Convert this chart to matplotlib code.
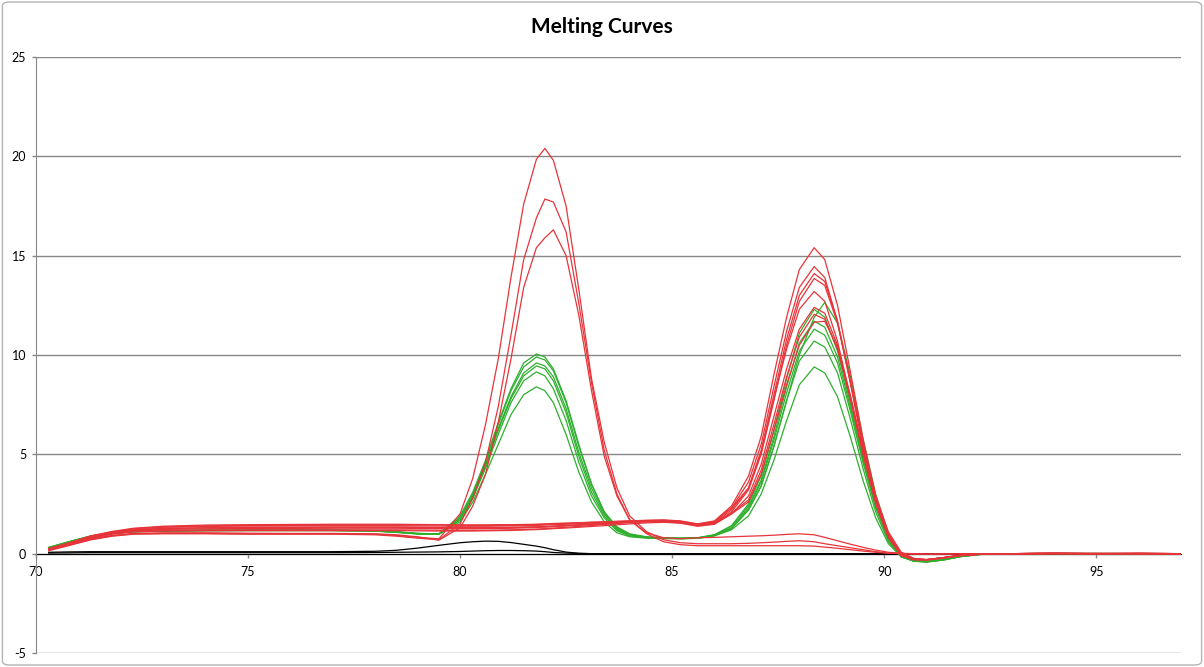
import matplotlib
matplotlib.use("Agg")
import matplotlib.pyplot as plt
from matplotlib.patches import FancyBboxPatch

# temperature grid (deg C) shared by all wells
temps = [70.3, 70.8, 71.3, 71.8, 72.3, 73, 74, 75, 76, 77,
         78, 78.5, 79, 79.5, 80, 80.3, 80.6, 80.9, 81.2, 81.5,
         81.8, 82.0, 82.2, 82.5, 82.8, 83.1, 83.4, 83.7, 84.0, 84.4,
         84.8, 85.2, 85.6, 86.0, 86.4, 86.8, 87.1, 87.4, 87.7, 88.0,
         88.35, 88.6, 88.9, 89.2, 89.5, 89.8, 90.1, 90.4, 90.7, 91.0,
         91.4, 91.8, 92.3, 93, 94, 95, 96, 97]

# red wells with the 82 C product
red_a1 = [0.18, 0.45, 0.72, 0.9, 1.0, 1.02, 1.02, 1.0, 1.0, 1.0,
          0.98, 0.92, 0.82, 0.75, 2.0, 3.8, 6.5, 9.8, 13.9, 17.6,
          19.85, 20.4, 19.8, 17.5, 13.3, 8.8, 5.6, 3.3, 1.9, 1.1,
          0.7, 0.55, 0.5, 0.5, 0.5, 0.52, 0.55, 0.58, 0.62, 0.65,
          0.6, 0.5, 0.4, 0.3, 0.2, 0.1, 0.03, 0.0, -0.02, -0.03,
          -0.02, 0.0, 0.0, 0.0, 0.01, 0.0, 0.01, 0.0]
red_a2 = [0.15, 0.42, 0.7, 0.88, 0.98, 1.0, 1.0, 0.98, 0.98, 0.98,
          0.95, 0.88, 0.78, 0.7, 1.5, 2.8, 4.6, 7.4, 11.0, 14.8,
          16.9, 17.85, 17.7, 16.2, 12.6, 8.6, 5.2, 3.0, 1.7, 1.0,
          0.6, 0.45, 0.4, 0.4, 0.4, 0.4, 0.4, 0.4, 0.4, 0.4,
          0.38, 0.33, 0.27, 0.2, 0.13, 0.07, 0.02, 0.0, -0.02, -0.03,
          -0.02, 0.0, 0.0, 0.0, 0.0, 0.01, 0.0, 0.0]
red_a3 = [0.2, 0.48, 0.75, 0.92, 1.02, 1.05, 1.05, 1.03, 1.02, 1.02,
          1.0, 0.95, 0.85, 0.68, 1.3, 2.4, 4.0, 6.6, 9.8, 13.4,
          15.4, 15.9, 16.3, 15.0, 12.0, 8.2, 4.9, 2.9, 1.7, 1.05,
          0.8, 0.75, 0.8, 0.82, 0.85, 0.88, 0.9, 0.93, 0.97, 1.0,
          0.95, 0.82, 0.65, 0.48, 0.32, 0.18, 0.07, 0.02, 0.0, -0.02,
          -0.01, 0.0, 0.0, 0.0, 0.01, 0.0, 0.0, 0.0]

# red wells with the 88 C product
red_b1 = [0.25, 0.55, 0.88, 1.1, 1.25, 1.35, 1.4, 1.42, 1.42, 1.45,
          1.45, 1.45, 1.45, 1.45, 1.42, 1.42, 1.42, 1.43, 1.43, 1.45,
          1.47, 1.48, 1.5, 1.52, 1.55, 1.58, 1.6, 1.63, 1.65, 1.68,
          1.7, 1.65, 1.5, 1.65, 2.4, 3.9, 5.9, 9.0, 11.9, 14.3,
          15.4, 14.8, 12.5, 9.2, 5.8, 2.9, 0.9, -0.1, -0.3, -0.3,
          -0.2, -0.1, -0.02, 0.0, 0.02, 0.0, 0.02, 0.0]
red_b2 = [0.22, 0.5, 0.82, 1.02, 1.15, 1.22, 1.25, 1.27, 1.27, 1.28,
          1.28, 1.28, 1.27, 1.26, 1.25, 1.25, 1.26, 1.27, 1.28, 1.3,
          1.32, 1.34, 1.37, 1.41, 1.45, 1.5, 1.54, 1.58, 1.62, 1.65,
          1.66, 1.6, 1.45, 1.6, 2.3, 3.6, 5.5, 8.4, 11.2, 13.4,
          14.45, 13.9, 11.7, 8.6, 5.4, 2.7, 0.85, -0.1, -0.3, -0.32,
          -0.22, -0.1, -0.02, 0.0, 0.01, 0.0, 0.02, 0.0]
red_b3 = [0.24, 0.52, 0.85, 1.05, 1.2, 1.28, 1.3, 1.32, 1.32, 1.33,
          1.33, 1.33, 1.32, 1.3, 1.28, 1.28, 1.28, 1.3, 1.3, 1.32,
          1.34, 1.35, 1.37, 1.4, 1.43, 1.46, 1.5, 1.54, 1.58, 1.62,
          1.64, 1.58, 1.42, 1.55, 2.2, 3.3, 5.2, 8.0, 10.8, 13.0,
          14.1, 13.7, 11.7, 8.7, 5.5, 2.8, 0.9, -0.05, -0.28, -0.3,
          -0.2, -0.08, -0.02, 0.0, 0.02, 0.01, 0.0, 0.0]
red_b4 = [0.2, 0.48, 0.8, 1.0, 1.12, 1.17, 1.19, 1.2, 1.2, 1.2,
          1.2, 1.2, 1.19, 1.18, 1.17, 1.17, 1.18, 1.19, 1.2, 1.22,
          1.24, 1.26, 1.29, 1.33, 1.37, 1.42, 1.47, 1.52, 1.56, 1.6,
          1.62, 1.56, 1.4, 1.5, 2.1, 3.2, 5.0, 7.7, 10.5, 12.7,
          13.85, 13.5, 11.6, 8.7, 5.6, 2.9, 1.0, 0.0, -0.27, -0.3,
          -0.2, -0.08, -0.02, 0.0, 0.0, 0.01, 0.0, 0.0]
red_b5 = [0.26, 0.56, 0.9, 1.12, 1.28, 1.38, 1.44, 1.46, 1.47, 1.48,
          1.48, 1.48, 1.47, 1.46, 1.45, 1.45, 1.45, 1.46, 1.46, 1.47,
          1.48, 1.5, 1.52, 1.54, 1.56, 1.58, 1.6, 1.62, 1.64, 1.67,
          1.68, 1.63, 1.48, 1.62, 2.3, 3.3, 5.1, 7.8, 10.3, 12.3,
          13.2, 12.7, 10.7, 7.9, 5.0, 2.5, 0.8, -0.08, -0.3, -0.32,
          -0.22, -0.1, -0.02, 0.0, 0.02, 0.0, 0.01, 0.0]
red_b6 = [0.2, 0.46, 0.78, 0.98, 1.1, 1.14, 1.15, 1.16, 1.16, 1.16,
          1.16, 1.16, 1.15, 1.14, 1.14, 1.14, 1.15, 1.16, 1.17, 1.19,
          1.21, 1.23, 1.26, 1.29, 1.33, 1.37, 1.41, 1.45, 1.5, 1.55,
          1.58, 1.53, 1.38, 1.48, 2.0, 2.9, 4.5, 6.9, 9.3, 11.3,
          12.4, 12.1, 10.5, 7.9, 5.1, 2.7, 0.9, 0.0, -0.25, -0.3,
          -0.2, -0.08, -0.02, 0.0, 0.01, 0.0, 0.0, 0.0]
red_b7 = [0.23, 0.53, 0.86, 1.08, 1.24, 1.33, 1.37, 1.39, 1.4, 1.41,
          1.41, 1.41, 1.4, 1.39, 1.38, 1.38, 1.38, 1.39, 1.4, 1.41,
          1.42, 1.44, 1.46, 1.48, 1.51, 1.54, 1.57, 1.6, 1.63, 1.66,
          1.67, 1.62, 1.46, 1.56, 2.05, 2.7, 4.2, 6.5, 8.9, 10.9,
          12.05, 11.8, 10.3, 7.8, 5.1, 2.7, 0.95, 0.02, -0.26, -0.3,
          -0.2, -0.08, -0.02, 0.0, 0.02, 0.0, 0.01, 0.0]
red_b8 = [0.22, 0.5, 0.82, 1.03, 1.18, 1.26, 1.3, 1.32, 1.33, 1.34,
          1.34, 1.34, 1.33, 1.32, 1.31, 1.31, 1.31, 1.32, 1.33, 1.34,
          1.35, 1.37, 1.39, 1.42, 1.45, 1.49, 1.53, 1.56, 1.6, 1.63,
          1.65, 1.6, 1.43, 1.52, 2.0, 2.6, 4.0, 6.2, 8.5, 10.5,
          11.65, 11.7, 10.4, 8.0, 5.3, 2.9, 1.1, 0.08, -0.24, -0.3,
          -0.2, -0.08, -0.02, 0.0, 0.0, 0.01, 0.0, 0.0]

# green wells, both products
green_1 = [0.3, 0.6, 0.88, 1.03, 1.12, 1.16, 1.18, 1.18, 1.18, 1.18,
           1.15, 1.1, 1.02, 1.0, 1.9, 3.1, 4.7, 6.6, 8.3, 9.6,
           10.05, 9.9, 9.3, 7.7, 5.5, 3.5, 2.1, 1.35, 1.0, 0.85,
           0.8, 0.78, 0.8, 0.95, 1.4, 2.5, 3.9, 6.2, 8.8, 11.1,
           12.3, 11.9, 10.2, 7.6, 4.8, 2.4, 0.7, -0.15, -0.38, -0.42,
           -0.32, -0.15, -0.03, 0.0, 0.01, 0.0, 0.0, 0.0]
green_2 = [0.28, 0.58, 0.86, 1.02, 1.1, 1.14, 1.16, 1.17, 1.17, 1.17,
           1.14, 1.08, 1.0, 0.98, 1.8, 3.0, 4.6, 6.5, 8.2, 9.4,
           9.9, 9.75, 9.2, 7.6, 5.4, 3.5, 2.1, 1.3, 0.95, 0.82,
           0.78, 0.76, 0.78, 0.9, 1.25, 2.2, 3.4, 5.4, 7.7, 10.0,
           11.9, 12.65, 11.6, 9.0, 5.8, 3.0, 1.0, -0.1, -0.38, -0.42,
           -0.32, -0.15, -0.03, 0.0, 0.0, 0.01, 0.0, 0.0]
green_3 = [0.3, 0.6, 0.87, 1.02, 1.11, 1.15, 1.17, 1.17, 1.17, 1.17,
           1.14, 1.09, 1.01, 0.98, 1.8, 2.9, 4.5, 6.3, 7.9, 9.1,
           9.6, 9.45, 8.9, 7.3, 5.1, 3.3, 2.0, 1.25, 0.95, 0.83,
           0.8, 0.78, 0.8, 0.95, 1.4, 2.4, 3.7, 5.9, 8.4, 10.6,
           11.7, 11.4, 9.9, 7.4, 4.7, 2.4, 0.7, -0.15, -0.38, -0.4,
           -0.3, -0.14, -0.03, 0.0, 0.01, 0.0, 0.0, 0.0]
green_4 = [0.32, 0.62, 0.9, 1.04, 1.12, 1.16, 1.18, 1.19, 1.19, 1.19,
           1.16, 1.1, 1.02, 0.99, 1.7, 2.8, 4.4, 6.2, 7.8, 8.95,
           9.45, 9.3, 8.7, 7.1, 4.9, 3.1, 1.9, 1.2, 0.9, 0.82,
           0.79, 0.77, 0.79, 0.93, 1.3, 2.3, 3.6, 5.7, 8.1, 10.2,
           11.3, 11.0, 9.6, 7.2, 4.6, 2.3, 0.7, -0.15, -0.37, -0.4,
           -0.3, -0.14, -0.03, 0.0, 0.0, 0.0, 0.01, 0.0]
green_5 = [0.29, 0.59, 0.87, 1.02, 1.1, 1.14, 1.16, 1.16, 1.16, 1.16,
           1.13, 1.07, 0.99, 0.97, 1.7, 2.8, 4.3, 6.0, 7.6, 8.7,
           9.15, 8.95, 8.3, 6.7, 4.6, 2.9, 1.8, 1.15, 0.9, 0.8,
           0.77, 0.76, 0.78, 0.92, 1.3, 2.2, 3.4, 5.4, 7.7, 9.7,
           10.7, 10.4, 9.1, 6.8, 4.3, 2.1, 0.6, -0.15, -0.36, -0.4,
           -0.3, -0.14, -0.03, 0.0, 0.0, 0.01, 0.0, 0.0]
green_6 = [0.31, 0.61, 0.89, 1.03, 1.11, 1.15, 1.17, 1.17, 1.17, 1.17,
           1.14, 1.08, 1.0, 0.98, 1.6, 2.6, 4.0, 5.5, 7.0, 8.0,
           8.4, 8.2, 7.6, 6.0, 4.1, 2.6, 1.6, 1.05, 0.85, 0.78,
           0.76, 0.75, 0.77, 0.9, 1.2, 1.9, 3.0, 4.7, 6.7, 8.5,
           9.4, 9.1, 7.9, 5.9, 3.7, 1.8, 0.5, -0.15, -0.35, -0.38,
           -0.28, -0.13, -0.03, 0.0, 0.01, 0.0, 0.0, 0.0]

# no-template controls
black_1 = [0.07, 0.09, 0.1, 0.1, 0.1, 0.1, 0.1, 0.1, 0.1, 0.1,
           0.12, 0.17, 0.28, 0.42, 0.55, 0.6, 0.63, 0.62, 0.56, 0.47,
           0.38, 0.3, 0.2, 0.08, 0.02, 0.0, 0.0, 0.0, 0.0, 0.0,
           0.0, 0.0, 0.0, 0.0, 0.0, 0.0, 0.0, 0.0, 0.0, 0.0,
           0.0, 0.0, 0.0, 0.0, 0.0, 0.0, 0.0, 0.0, 0.0, 0.0,
           0.0, 0.0, 0.0, 0.0, 0.0, 0.0, 0.0, 0.0]
black_2 = [0.03, 0.04, 0.05, 0.05, 0.05, 0.05, 0.05, 0.05, 0.05, 0.05,
           0.06, 0.07, 0.08, 0.09, 0.11, 0.13, 0.15, 0.16, 0.16, 0.15,
           0.13, 0.1, 0.06, 0.03, 0.01, 0.0, 0.0, 0.0, 0.0, 0.0,
           0.0, 0.0, 0.0, 0.0, 0.0, 0.0, 0.0, 0.0, 0.0, 0.0,
           0.0, 0.0, 0.0, 0.0, 0.0, 0.0, 0.0, 0.0, 0.0, 0.0,
           0.0, 0.0, 0.0, 0.0, 0.0, 0.0, 0.0, 0.0]

reds = [red_a1, red_a2, red_a3, red_b1, red_b2, red_b3, red_b4,
        red_b5, red_b6, red_b7, red_b8]
greens = [green_1, green_2, green_3, green_4, green_5, green_6]
blacks = [black_1, black_2]

RED = '#e6343a'
GREEN = '#2eaf2e'
GRID = '#878787'

plt.rcParams['font.family'] = ['Lato', 'DejaVu Sans']
plt.rcParams['axes.unicode_minus'] = False

fig = plt.figure(figsize=(12.04, 6.67), dpi=100)
ax = fig.add_axes([36 / 1204, 14 / 667, 1145 / 1204, 596 / 667])

for y in blacks:
    ax.plot(temps, y, color='black', lw=0.9, zorder=3)
for y in greens:
    ax.plot(temps, y, color=GREEN, lw=0.9, zorder=4)
for y in reds:
    ax.plot(temps, y, color=RED, lw=0.9, zorder=5)

ax.set_xlim(70, 97)
ax.set_ylim(-5, 25)
ax.set_xticks([70, 75, 80, 85, 90, 95])
ax.set_yticks([-5, 0, 5, 10, 15, 20, 25])
ax.yaxis.grid(True, color=GRID, lw=1)
ax.set_axisbelow(True)

ax.spines['top'].set_visible(False)
ax.spines['right'].set_visible(False)
ax.spines['left'].set_color(GRID)
ax.spines['bottom'].set_position(('data', 0))
ax.spines['bottom'].set_color('black')
ax.spines['bottom'].set_zorder(2)

ax.tick_params(axis='y', length=3, width=1, color=GRID, pad=4, labelsize=9)
ax.tick_params(axis='x', length=3, width=1, color=GRID, pad=6, labelsize=9)

fig.text(0.5, 1 - 27 / 667, 'Melting Curves', ha='center', va='center',
         fontsize=15, fontweight='bold')

fig.patches.append(FancyBboxPatch((0.002, 0.003), 0.996, 0.994,
                                  boxstyle='round,pad=0,rounding_size=0.006',
                                  transform=fig.transFigure, fill=False,
                                  ec='#b4b4b4', lw=1))

fig.savefig('out.png', dpi=100)
